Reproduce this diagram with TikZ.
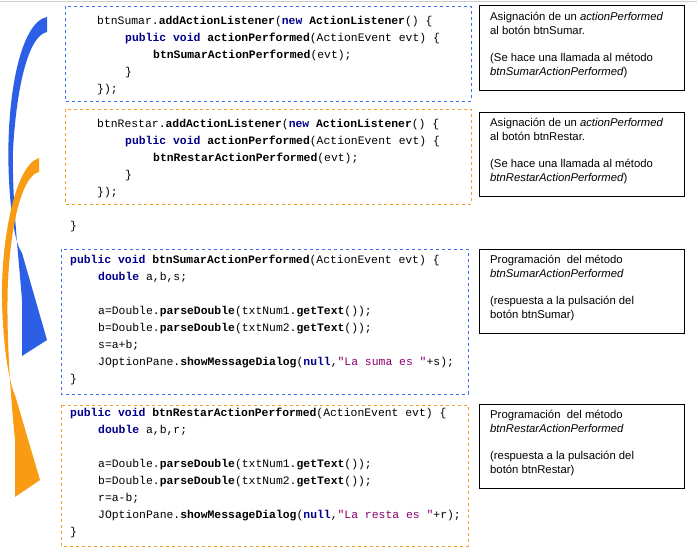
\documentclass[tikz,border=0pt]{standalone}
\usepackage{fontspec}
\setmainfont{Liberation Sans}
\setmonofont{Liberation Mono}
\definecolor{kw}{RGB}{0,0,140}
\definecolor{st}{RGB}{140,0,110}
\definecolor{bdash}{RGB}{60,110,240}
\definecolor{odash}{RGB}{245,160,40}
\definecolor{barrow}{RGB}{45,95,230}
\definecolor{oarrow}{RGB}{250,155,20}
\newcommand{\kw}[1]{{\bfseries\color{kw}#1}}
\newcommand{\bo}[1]{{\bfseries #1}}
\newcommand{\stc}[1]{{\color{st}#1}}
\newcommand{\ind}{\hspace*{28pt}}
\tikzset{
 code/.style={anchor=north west,inner sep=0pt,align=left,font=\ttfamily\fontsize{11.4}{17}\selectfont},
 note/.style={anchor=north west,inner sep=0pt,align=left,font=\fontsize{11.3}{13.7}\selectfont},
 bbox/.style={draw=bdash,dashed,line width=0.8pt},
 obox/.style={draw=odash,dashed,line width=0.8pt},
 nbox/.style={draw=black,line width=0.8pt},
}
\begin{document}
\begin{tikzpicture}[x=1pt,y=-1pt]
\useasboundingbox[fill=white] (0,0) rectangle (697,551);
\draw[gray!40] (0,1.5) -- (697,1.5);
% code boxes
\draw[bbox] (65,6) rectangle (471,101);
\draw[obox] (65,109) rectangle (471,204);
\draw[bbox] (61,249) rectangle (468,394);
\draw[obox] (61,405) rectangle (468,546);
% note boxes
\draw[nbox] (479,5) rectangle (684,90);
\draw[nbox] (479,112) rectangle (684,196);
\draw[nbox] (479,249) rectangle (684,333);
\draw[nbox] (479,404) rectangle (684,488);
% code
\node[code] (c1) at (97,16) {btnSumar.\bo{addActionListener}(\kw{new} \bo{ActionListener}() \{\\
\ind\kw{public} \kw{void} \bo{actionPerformed}(ActionEvent evt) \{\\
\ind\ind\bo{btnSumarActionPerformed}(evt);\\
\ind\}\\
\});};
\node[code] (c2) at (97,119) {btnRestar.\bo{addActionListener}(\kw{new} \bo{ActionListener}() \{\\
\ind\kw{public} \kw{void} \bo{actionPerformed}(ActionEvent evt) \{\\
\ind\ind\bo{btnRestarActionPerformed}(evt);\\
\ind\}\\
\});};
\node[code] (cb) at (70,221) {\}};
\node[code] (c3) at (70,255) {\kw{public} \kw{void} \bo{btnSumarActionPerformed}(ActionEvent evt) \{\\
\ind\kw{double} a,b,s;\\
\mbox{}\\
\ind a=Double.\bo{parseDouble}(txtNum1.\bo{getText}());\\
\ind b=Double.\bo{parseDouble}(txtNum2.\bo{getText}());\\
\ind s=a+b;\\
\ind JOptionPane.\bo{showMessageDialog}(\kw{null},\stc{"La suma es "}+s);\\
\}};
\node[code] (c4) at (70,408) {\kw{public} \kw{void} \bo{btnRestarActionPerformed}(ActionEvent evt) \{\\
\ind\kw{double} a,b,r;\\
\mbox{}\\
\ind a=Double.\bo{parseDouble}(txtNum1.\bo{getText}());\\
\ind b=Double.\bo{parseDouble}(txtNum2.\bo{getText}());\\
\ind r=a-b;\\
\ind JOptionPane.\bo{showMessageDialog}(\kw{null},\stc{"La resta es "}+r);\\
\}};
% notes
\node[note] (n1) at (490,12) {Asignación de un \textit{actionPerformed}\\al botón btnSumar.\\\mbox{}\\(Se hace una llamada al método\\\textit{btnSumarActionPerformed})};
\node[note] (n2) at (490,118) {Asignación de un \textit{actionPerformed}\\al botón btnRestar.\\\mbox{}\\(Se hace una llamada al método\\\textit{btnRestarActionPerformed})};
\node[note] (n3) at (490,255) {Programación\ \ del método\\\textit{btnSumarActionPerformed}\\\mbox{}\\(respuesta a la pulsación del\\botón btnSumar)};
\node[note] (n4) at (490,410) {Programación\ \ del método\\\textit{btnRestarActionPerformed}\\\mbox{}\\(respuesta a la pulsación del\\botón btnRestar)};
% curved arrows
\fill[barrow] (47,17) .. controls (20,22) and (5,100) .. (9,180)
  .. controls (11,220) and (16,245) .. (22,253) -- (47,340) -- (22,356) -- (22,300)
  .. controls (18,250) and (12,200) .. (13,150)
  .. controls (17,80) and (30,35) .. (47,32) -- cycle;
\fill[oarrow] (39,158) .. controls (15,165) and (1,240) .. (2,300)
  .. controls (3,350) and (10,385) .. (15,395) -- (40,480) -- (15,497) -- (15,440)
  .. controls (10,390) and (6,330) .. (8,280)
  .. controls (12,210) and (25,175) .. (39,172) -- cycle;
\end{tikzpicture}
\end{document}
